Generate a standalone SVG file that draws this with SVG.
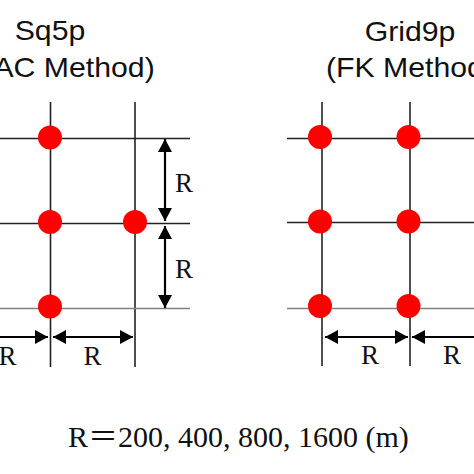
<svg xmlns="http://www.w3.org/2000/svg" width="474" height="474" viewBox="0 0 474 474">
<defs>
<marker id="ah" viewBox="0 0 13 14" refX="13" refY="7" markerWidth="13" markerHeight="14" markerUnits="userSpaceOnUse" orient="auto-start-reverse"><path d="M0,0 L13,7 L0,14 Z" fill="#000"/></marker>
</defs>
<style>
.title{font-family:"Liberation Sans",Arial,sans-serif;font-size:28px;fill:#111;text-anchor:middle}
.lbl{font-family:"Liberation Serif","Times New Roman",serif;font-size:27px;fill:#111;text-anchor:middle}
.foot{font-family:"Liberation Serif","Times New Roman","Noto Sans CJK JP",serif;font-size:30px;fill:#111}
.grid{stroke:#222;stroke-width:1.6;fill:none}
.gridl{stroke:#808080;stroke-width:1.3;fill:none}
.dot{fill:#ff0000}
.dim{stroke:#000;stroke-width:2.2;fill:none}
</style>
<rect width="474" height="474" fill="#fff"/>

<g id="title-sq5p" transform="translate(50,0) scale(1.08,1)">
<text class="title" x="0" y="40">Sq5p</text>
<text class="title" x="0" y="77">(SPAC Method)</text>
</g>
<g id="title-grid9p" transform="translate(410,0) scale(1.08,1)">
<text class="title" x="0" y="41">Grid9p</text>
<text class="title" x="0" y="77">(FK Method)</text>
</g>

<g id="grid-sq5p">
<line class="grid" x1="50.5" y1="102" x2="50.5" y2="367"/>
<line class="grid" x1="135" y1="102" x2="135" y2="367"/>
<line class="grid" x1="0" y1="138.5" x2="190" y2="138.5"/>
<line class="grid" x1="0" y1="223.5" x2="190" y2="223.5"/>
<line class="gridl" x1="0" y1="308.5" x2="190" y2="308.5"/>
</g>
<g id="grid-grid9p">
<line class="grid" x1="322" y1="102" x2="322" y2="366"/>
<line class="grid" x1="410" y1="102" x2="410" y2="366"/>
<line class="grid" x1="287" y1="138.5" x2="474" y2="138.5"/>
<line class="grid" x1="287" y1="222.5" x2="474" y2="222.5"/>
<line class="gridl" x1="287" y1="308.5" x2="474" y2="308.5"/>
</g>

<g id="dots-sq5p">
<circle class="dot" cx="50" cy="137.5" r="12"/>
<circle class="dot" cx="50" cy="222" r="12"/>
<circle class="dot" cx="135" cy="222" r="12"/>
<circle class="dot" cx="50" cy="306.5" r="12"/>
</g>
<g id="dots-grid9p">
<circle class="dot" cx="320" cy="137" r="12"/>
<circle class="dot" cx="408.5" cy="137" r="12"/>
<circle class="dot" cx="320" cy="221.5" r="12"/>
<circle class="dot" cx="408.5" cy="221.5" r="12"/>
<circle class="dot" cx="320" cy="306" r="12"/>
<circle class="dot" cx="408.5" cy="306" r="12"/>
</g>

<g id="connectors">
<line class="dim" x1="165" y1="139" x2="165" y2="221" marker-start="url(#ah)" marker-end="url(#ah)"/>
<line class="dim" x1="165" y1="226" x2="165" y2="308" marker-start="url(#ah)" marker-end="url(#ah)"/>
<line class="dim" x1="-30" y1="337" x2="48" y2="337" marker-end="url(#ah)"/>
<line class="dim" x1="53" y1="337" x2="133" y2="337" marker-start="url(#ah)" marker-end="url(#ah)"/>
<line class="dim" x1="325" y1="337" x2="408" y2="337" marker-start="url(#ah)" marker-end="url(#ah)"/>
<line class="dim" x1="412" y1="337" x2="500" y2="337" marker-start="url(#ah)"/>
</g>

<g id="labels">
<text class="lbl" x="184" y="192">R</text>
<text class="lbl" x="184" y="278">R</text>
<text class="lbl" x="7.5" y="365">R</text>
<text class="lbl" x="92.5" y="365">R</text>
<text class="lbl" x="370" y="364">R</text>
<text class="lbl" x="452" y="364">R</text>
</g>

<g id="footnote">
<text class="foot" x="68" y="447">R＝200, 400, 800, 1600 (m)</text>
</g>
</svg>
